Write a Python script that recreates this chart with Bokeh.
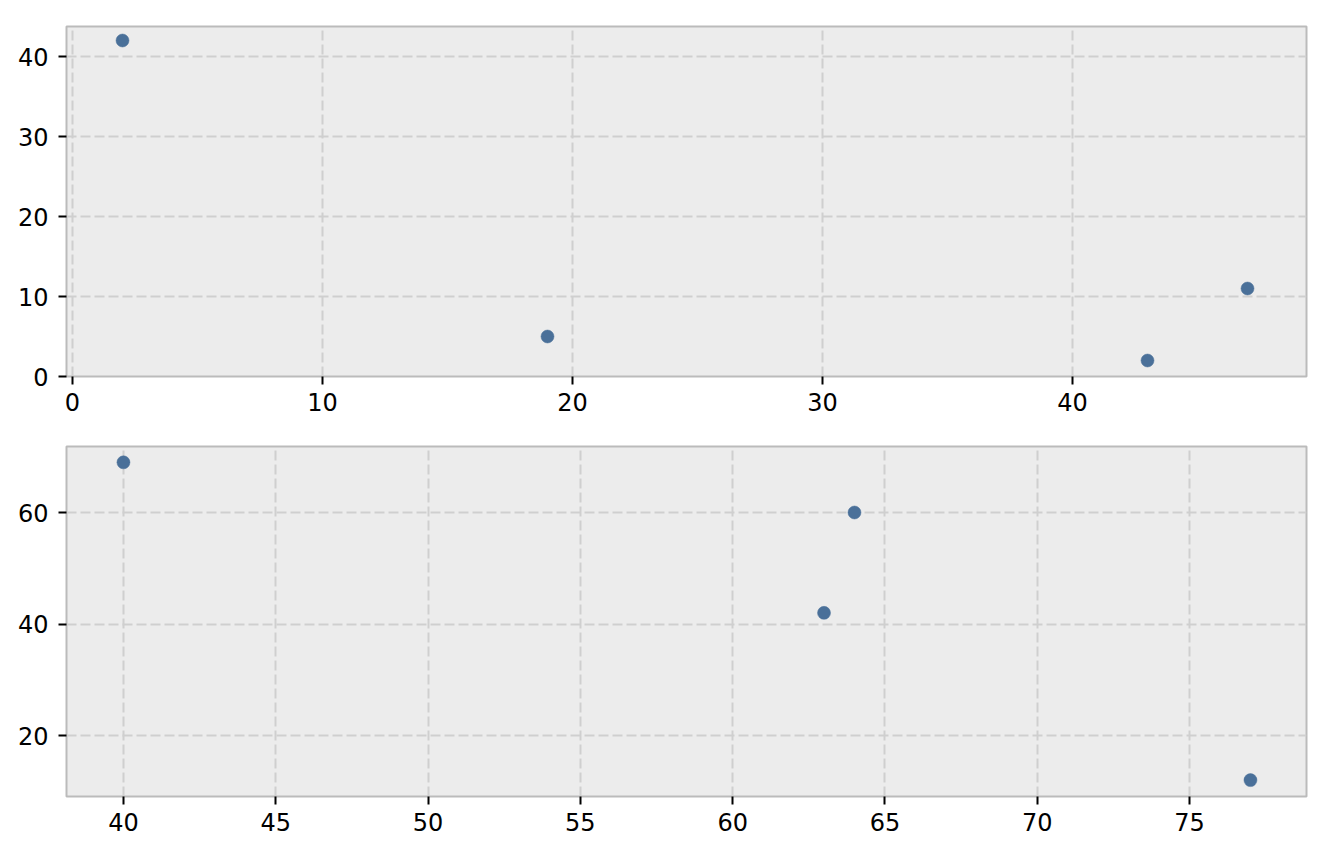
from bokeh.plotting import figure
from bokeh.layouts import column
from bokeh.models import Range1d, FixedTicker
from bokeh.embed import file_html
from bokeh.resources import INLINE

# Top panel data
top_x = [2, 19, 43, 47]
top_y = [42, 5, 2, 11]
top_xticks = [0, 10, 20, 30, 40]
top_yticks = [0, 10, 20, 30, 40]

# Bottom panel data
bot_x = [40, 64, 63, 77]
bot_y = [69, 60, 42, 12]
bot_xticks = [40, 45, 50, 55, 60, 65, 70, 75]
bot_yticks = [20, 40, 60]

DOT = "#4A7099"
BG = "#ECECEC"
BORDER = "#BBBBBB"
GRID = "#CFCFCF"
FONT = "DejaVu Sans"


def make_panel(xs, ys, xr, yr, xt, yt, top, bottom):
    p = figure(width=1326, height=top + 350 + bottom, output_backend="svg",
               toolbar_location=None, x_range=Range1d(*xr), y_range=Range1d(*yr),
               min_border_left=66, min_border_right=20,
               min_border_top=top, min_border_bottom=bottom)
    p.background_fill_color = BG
    p.border_fill_color = "white"
    p.outline_line_color = BORDER
    p.outline_line_width = 2
    for ax in (p.xaxis[0], p.yaxis[0]):
        ax.axis_line_color = None
        ax.major_tick_line_color = "black"
        ax.major_tick_line_width = 2
        ax.major_tick_out = 8
        ax.major_tick_in = 0
        ax.minor_tick_line_color = None
        ax.major_label_text_font = FONT
        ax.major_label_text_font_size = "24px"
        ax.major_label_text_color = "black"
    p.xaxis[0].major_label_standoff = 8
    p.yaxis[0].major_label_standoff = 10
    p.xaxis[0].ticker = FixedTicker(ticks=xt)
    p.yaxis[0].ticker = FixedTicker(ticks=yt)
    for g in (p.xgrid[0], p.ygrid[0]):
        g.grid_line_color = GRID
        g.grid_line_width = 2
        g.grid_line_dash = "10 4"
    p.scatter(xs, ys, size=13, fill_color=DOT, line_color=DOT, line_width=0.5)
    return p


p1 = make_panel(top_x, top_y, (-0.24, 49.36), (0, 43.75), top_xticks, top_yticks, 26, 44)
p2 = make_panel(bot_x, bot_y, (38.13, 78.84), (9.06, 71.84), bot_xticks, bot_yticks, 26, 55)

layout = column(p1, p2, spacing=0)
open("out.html", "w").write(file_html(layout, INLINE))
